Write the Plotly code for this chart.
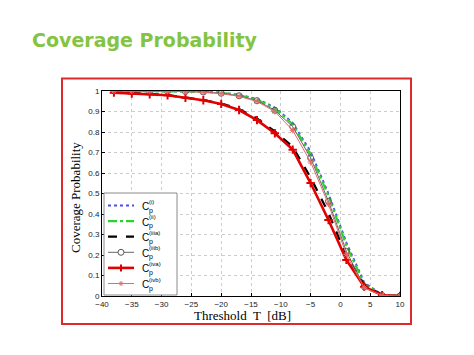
import plotly.graph_objects as go

# ---------------- data ----------------
threshold_db = [-38, -35, -32, -29, -26, -23, -20, -17, -14, -11, -8, -5, -2, 1, 4, 7, 10]

cp_i    = [1.0, 1.0, 1.0, 0.999, 0.999, 0.997, 0.992, 0.982, 0.962, 0.92, 0.845, 0.705, 0.50, 0.262, 0.066, 0.006, 0.0]
cp_ii   = [1.0, 1.0, 1.0, 0.999, 0.998, 0.996, 0.991, 0.98, 0.958, 0.915, 0.838, 0.69, 0.488, 0.247, 0.058, 0.005, 0.0]
cp_iiia = [0.993, 0.99, 0.986, 0.98, 0.969, 0.956, 0.939, 0.912, 0.866, 0.803, 0.728, 0.578, 0.405, 0.196, 0.055, 0.005, 0.0]
cp_iiib = [1.0, 1.0, 0.999, 0.999, 0.998, 0.995, 0.989, 0.977, 0.953, 0.906, 0.826, 0.674, 0.462, 0.218, 0.046, 0.003, 0.0]
cp_iva  = [0.992, 0.988, 0.984, 0.979, 0.967, 0.955, 0.937, 0.907, 0.858, 0.794, 0.714, 0.551, 0.371, 0.176, 0.045, 0.004, 0.0]
cp_ivb  = [1.0, 1.0, 0.999, 0.999, 0.997, 0.994, 0.987, 0.974, 0.949, 0.9, 0.808, 0.654, 0.448, 0.202, 0.04, 0.003, 0.0]

x_ticks = [-40, -35, -30, -25, -20, -15, -10, -5, 0, 5, 10]
y_ticks = [0, 0.1, 0.2, 0.3, 0.4, 0.5, 0.6, 0.7, 0.8, 0.9, 1]

series_labels = ["(i)", "(ii)", "(iiia)", "(iiib)", "(iva)", "(ivb)"]

# ---------------- styles ----------------
styles = [
    dict(mode="lines", line=dict(color="#4b4bf0", width=1.8, dash="dot")),
    dict(mode="lines", line=dict(color="#2fd02f", width=2.2, dash="dashdot")),
    dict(mode="lines", line=dict(color="black", width=2.2, dash="dash")),
    dict(mode="lines+markers", line=dict(color="#666666", width=1),
         marker=dict(symbol="circle-open", size=6, color="#555555", line=dict(width=1))),
    dict(mode="lines+markers", line=dict(color="#e00000", width=2.6),
         marker=dict(symbol="cross-thin-open", size=6, color="#e00000", line=dict(width=2, color="#e00000"))),
    dict(mode="lines+markers", line=dict(color="#e46a6a", width=1),
         marker=dict(symbol="asterisk-open", size=5, color="#e46a6a", line=dict(width=1, color="#e46a6a"))),
]
series_values = [cp_i, cp_ii, cp_iiia, cp_iiib, cp_iva, cp_ivb]

fig = go.Figure()
for lab, vals, st in zip(series_labels, series_values, styles):
    fig.add_trace(go.Scatter(x=threshold_db, y=vals, name="C" + lab + "p", showlegend=False, **st))

axis_common = dict(showline=True, linecolor="black", linewidth=1, mirror=True,
                   showgrid=True, gridcolor="#cccccc", griddash="dot", gridwidth=1,
                   ticks="inside", ticklen=3, tickcolor="black", zeroline=False,
                   tickfont=dict(family="Liberation Sans, Arial", size=8, color="#222222"))
fig.update_xaxes(range=[-40, 10], tickvals=x_ticks, **axis_common)
fig.update_yaxes(range=[0, 1], tickvals=y_ticks, **axis_common)

# ---------------- layout helpers (pixel -> paper) ----------------
W, H = 474, 355
ML, MR, MT, MB = 102, 74, 91, 59
PW, PH = W - ML - MR, H - MT - MB

def px_x(px):
    return (px - ML) / PW

def px_y(py):
    return (H - MB - py) / PH

shapes = [dict(type="rect", xref="paper", yref="paper",
               x0=px_x(62), x1=px_x(411), y0=px_y(324), y1=px_y(78.5),
               line=dict(color="#dd2a2a", width=2), fillcolor="rgba(0,0,0,0)", layer="below")]

# custom legend box
shapes.append(dict(type="rect", xref="paper", yref="paper",
                   x0=px_x(104), x1=px_x(177), y0=px_y(295), y1=px_y(193),
                   line=dict(color="#8a8a8a", width=1), fillcolor="white", layer="above"))

annotations = []
row0, step = 205.5, 15.6
lx0, lx1, mx = 108, 134, 121
for k, (lab, st) in enumerate(zip(series_labels, styles)):
    ry = row0 + k * step
    ln = st["line"]
    shapes.append(dict(type="line", xref="paper", yref="paper",
                       x0=px_x(lx0), x1=px_x(lx1), y0=px_y(ry), y1=px_y(ry),
                       line=dict(color=ln["color"], width=ln["width"], dash=ln.get("dash", "solid")),
                       layer="above"))
    mk = st.get("marker")
    if mk is not None:
        c = mk["line"].get("color", mk["color"])
        if mk["symbol"] == "circle-open":
            r = 3
            shapes.append(dict(type="circle", xref="paper", yref="paper",
                               x0=px_x(mx - r), x1=px_x(mx + r), y0=px_y(ry + r), y1=px_y(ry - r),
                               line=dict(color=c, width=1), fillcolor="white", layer="above"))
        elif mk["symbol"] == "cross-thin-open":
            r = 3.5
            shapes.append(dict(type="line", xref="paper", yref="paper",
                               x0=px_x(mx), x1=px_x(mx), y0=px_y(ry - r), y1=px_y(ry + r),
                               line=dict(color=c, width=2), layer="above"))
        else:
            r = 2.5
            for dx, dy in [(r, 0), (0, r), (r * 0.7, r * 0.7), (r * 0.7, -r * 0.7)]:
                shapes.append(dict(type="line", xref="paper", yref="paper",
                                   x0=px_x(mx - dx), x1=px_x(mx + dx), y0=px_y(ry - dy), y1=px_y(ry + dy),
                                   line=dict(color=c, width=1), layer="above"))
    annotations.append(dict(text="C", xref="paper", yref="paper", x=px_x(139.5), y=px_y(ry + 1),
                            xanchor="left", yanchor="middle", showarrow=False,
                            font=dict(family="Liberation Sans, Arial", size=10, color="black")))
    annotations.append(dict(text=lab, xref="paper", yref="paper", x=px_x(147), y=px_y(ry - 4),
                            xanchor="left", yanchor="middle", showarrow=False,
                            font=dict(family="Liberation Sans, Arial", size=6, color="black")))
    annotations.append(dict(text="p", xref="paper", yref="paper", x=px_x(147), y=px_y(ry + 5),
                            xanchor="left", yanchor="middle", showarrow=False,
                            font=dict(family="Liberation Sans, Arial", size=7, color="black")))

annotations += [
    dict(text="<b>Coverage Probability</b>", xref="paper", yref="paper",
         x=px_x(30), y=px_y(40), xanchor="left", yanchor="middle", showarrow=False,
         font=dict(family="DejaVu Sans", size=19, color="#84c441")),
    dict(text="Threshold  T  [dB]", xref="paper", yref="paper",
         x=px_x(242), y=px_y(315), xanchor="center", yanchor="middle", showarrow=False,
         font=dict(family="Liberation Serif, Times New Roman", size=13, color="black")),
    dict(text="Coverage Probability", xref="paper", yref="paper",
         x=px_x(75), y=px_y(198), xanchor="center", yanchor="middle", showarrow=False, textangle=-90,
         font=dict(family="Liberation Serif, Times New Roman", size=13, color="black")),
]

fig.update_layout(
    width=W, height=H,
    margin=dict(l=ML, r=MR, t=MT, b=MB),
    paper_bgcolor="white", plot_bgcolor="white",
    showlegend=False,
    shapes=shapes,
    annotations=annotations,
)

fig.write_html("out.html")
